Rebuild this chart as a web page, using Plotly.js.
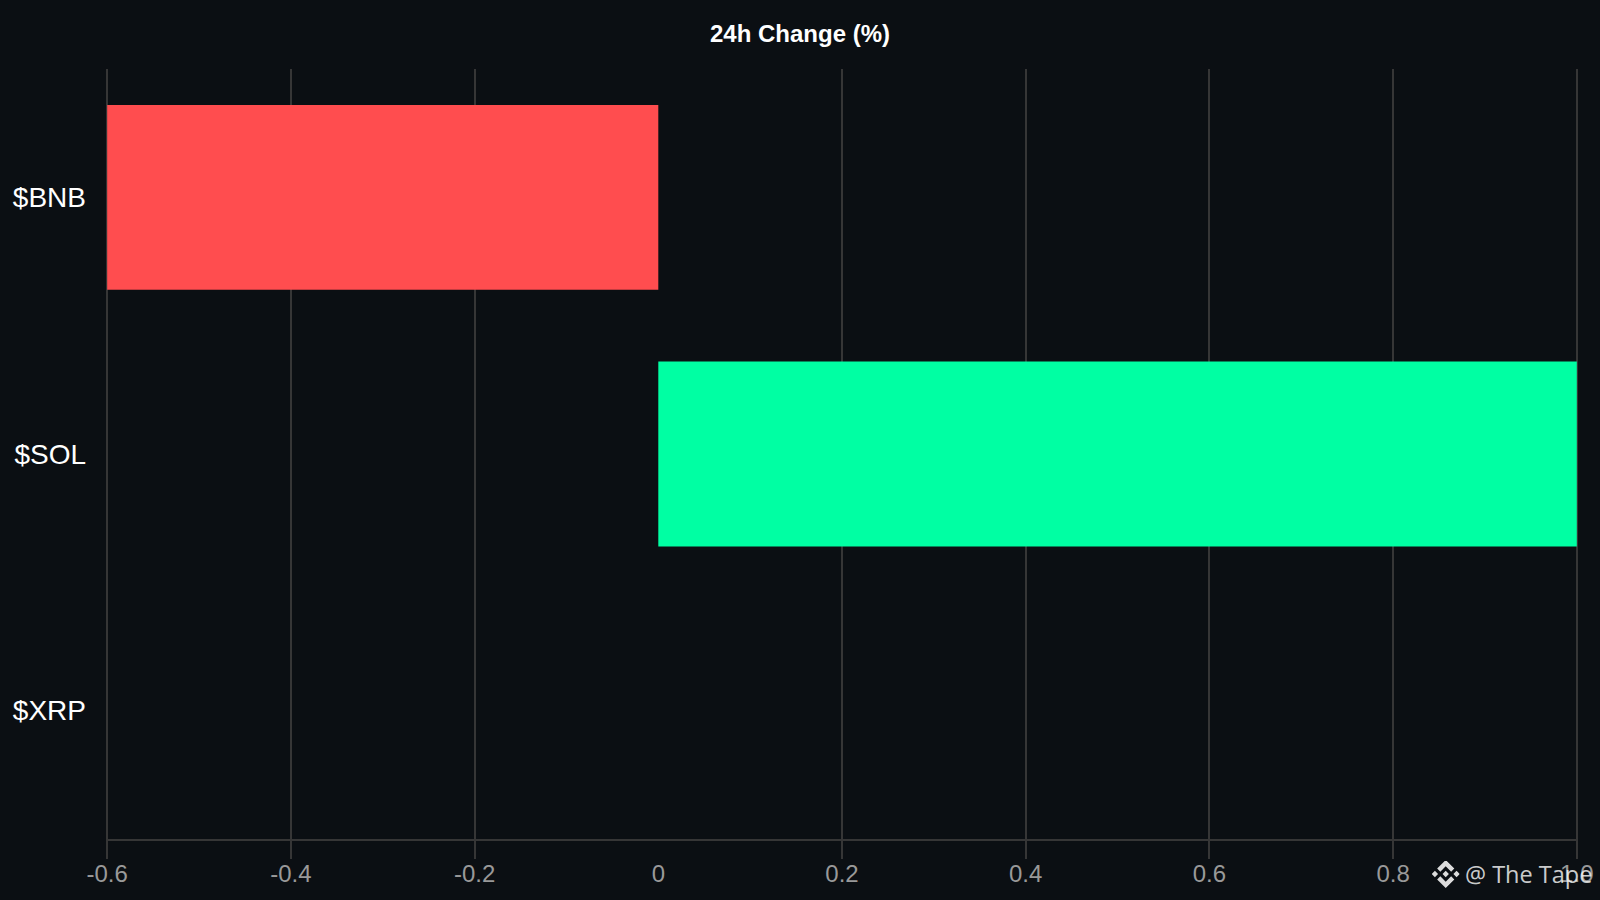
<!DOCTYPE html>
<html><head><meta charset="utf-8">
<script src="https://cdn.plot.ly/plotly-3.0.1.min.js"></script>
<style>html,body{margin:0;padding:0;background:#0b0f13}#c{width:1600px;height:900px}</style>
</head><body><div id="c"></div>
<script>
const categories = ['$BNB', '$SOL', '$XRP'];
const changes = [-0.6, 1.0, 0];
const barColors = ['#ff4d4f', '#00ffa3', '#00ffa3'];
const gridTicks = [-0.6, -0.4, -0.2, 0.2, 0.4, 0.6, 0.8, 1.0];
const labelTicks = [-0.6, -0.4, -0.2, 0, 0.2, 0.4, 0.6, 0.8, 1.0];
const labelTexts = ['-0.6', '-0.4', '-0.2', '0', '0.2', '0.4', '0.6', '0.8', '1.0'];
const xRange = [-0.6013, 1.0013];
const logoPath = 'M16.624 13.9202l2.7175 2.7154-7.353 7.353-7.353-7.352 2.7175-2.7164 4.6355 4.6595 4.6356-4.6595zm4.6366-4.6366L24 12l-2.7154 2.7164L18.5682 12l2.6924-2.7164zm-9.272.001l2.7163 2.6914-2.7164 2.7174v-.001L9.2721 12l2.7164-2.7154zm-9.2722-.001L5.4088 12l-2.6914 2.6924L0 12l2.7164-2.7164zM11.9885.0115l7.353 7.329-2.7174 2.7154-4.6356-4.6356-4.6355 4.6595-2.7174-2.7154 7.353-7.353z';
const logoSvg = "<svg xmlns='http://www.w3.org/2000/svg' viewBox='0 0 24 24'><path fill='#dcdcdc' d='" + logoPath + "'/></svg>";
const L = 105.9, T = 69, PW = 1472.4, PH = 770;

Plotly.newPlot('c', [
  {type: 'bar', orientation: 'h', y: categories, x: changes, xaxis: 'x', yaxis: 'y',
   marker: {color: barColors, line: {width: 0}}, hoverinfo: 'x+y'},
  {type: 'bar', orientation: 'h', y: categories, x: [0, 0, 0], xaxis: 'x2', yaxis: 'y',
   marker: {opacity: 0}, hoverinfo: 'skip'}
], {
  width: 1600, height: 900,
  paper_bgcolor: '#0b0f13', plot_bgcolor: '#0b0f13',
  margin: {l: L, r: 1600 - L - PW, t: T, b: 900 - T - PH},
  bargap: 0.28,
  showlegend: false,
  font: {family: '"Liberation Sans", Arial, sans-serif'},
  title: {text: '<b>24h Change (%)</b>', x: 0.5, xanchor: 'center', y: 0.9625, yanchor: 'middle',
          font: {size: 24, color: '#ffffff', family: '"Liberation Sans", Arial, sans-serif'}},
  xaxis: {
    range: xRange, tickmode: 'array', tickvals: gridTicks, showticklabels: false,
    gridcolor: '#363636', gridwidth: 2, zeroline: false,
    showline: true, linecolor: '#363636', linewidth: 2,
    ticks: 'outside', ticklen: 18, tickwidth: 2, tickcolor: '#363636', automargin: false
  },
  xaxis2: {
    overlaying: 'x', side: 'bottom', anchor: 'y', range: xRange,
    tickmode: 'array', tickvals: labelTicks, ticktext: labelTexts,
    showgrid: false, zeroline: false, showline: false,
    ticks: 'outside', ticklen: 13, tickwidth: 0, tickcolor: 'rgba(0,0,0,0)',
    tickfont: {size: 24, color: '#999999'}, automargin: false
  },
  yaxis: {
    autorange: 'reversed', showgrid: false, zeroline: false, showline: false, ticks: '',
    ticklabelstandoff: 19, tickfont: {size: 28, color: '#ffffff'}, automargin: false
  },
  images: [{source: 'data:image/svg+xml;utf8,' + encodeURIComponent(logoSvg),
    xref: 'paper', yref: 'paper', x: (1432 - L) / PW, y: (T + PH - 860) / PH,
    sizex: 28 / PW, sizey: 28 / PH, xanchor: 'left', yanchor: 'top', layer: 'above'}],
  annotations: [{xref: 'paper', yref: 'paper', x: (1463 - L) / PW, y: (T + PH - 874) / PH,
    xanchor: 'left', yanchor: 'middle', showarrow: false, text: '@ The Tape',
    font: {family: '"Open Sans", sans-serif', size: 23.5, color: 'rgba(255,255,255,0.8)'}}]
}, {displayModeBar: false});
</script></body></html>
